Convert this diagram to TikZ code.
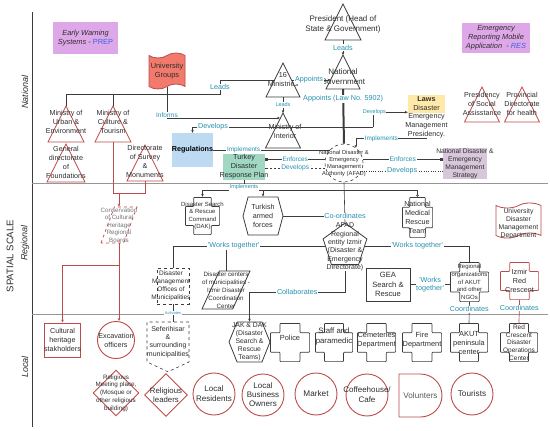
\documentclass[tikz,border=0pt]{standalone}
\usepackage{fontspec}
\setmainfont{Liberation Sans}
\usetikzlibrary{arrows.meta,shapes.geometric,shapes.symbols,shapes.misc,calc}

\definecolor{labteal}{RGB}{40,145,175}
\definecolor{linegray}{RGB}{60,60,60}
\definecolor{sepgray}{RGB}{150,150,150}
\definecolor{txtgray}{RGB}{45,45,45}
\definecolor{redline}{RGB}{190,75,75}
\definecolor{pinkbox}{RGB}{222,168,232}
\definecolor{prepblue}{RGB}{60,95,230}
\definecolor{salmon}{RGB}{242,122,108}
\definecolor{regblue}{RGB}{190,218,242}
\definecolor{planteal}{RGB}{160,216,196}
\definecolor{lawyellow}{RGB}{255,232,168}
\definecolor{stratpurple}{RGB}{216,198,218}

\newcommand{\fs}[2]{\fontsize{#1}{#2}\selectfont}

% triangle: name, apex x, apex y, height
\newcommand{\tri}[5][linegray]{%
  \draw[draw=#1, line width=0.8pt] (#3,#4) coordinate (#2)
    -- ++({#5/2},#5) -- ++(-#5,0) -- cycle;
  \coordinate (#2-b) at (#3,#4+#5);
  \coordinate (#2-re) at ({#3+#5/4},{#4+#5/2});
  \coordinate (#2-le) at ({#3-#5/4},{#4+#5/2});}

\tikzset{
  plusbox/.style={inner sep=0pt, path picture={
    \draw[draw=#1, line width=0.7pt, rounded corners=0.8pt]
      let \p1=(path picture bounding box.south west),
          \p2=(path picture bounding box.north east),
          \n1={(\x2-\x1)/4}, \n2={(\y2-\y1)/4}, \n3={0.4pt} in
      ({\x1+\n1},{\y2-\n3}) -- ({\x2-\n1},{\y2-\n3}) -- ({\x2-\n1},{\y2-\n2})
      -- ({\x2-\n3},{\y2-\n2}) -- ({\x2-\n3},{\y1+\n2}) -- ({\x2-\n1},{\y1+\n2})
      -- ({\x2-\n1},{\y1+\n3}) -- ({\x1+\n1},{\y1+\n3}) -- ({\x1+\n1},{\y1+\n2})
      -- ({\x1+\n3},{\y1+\n2}) -- ({\x1+\n3},{\y2-\n2}) -- ({\x1+\n1},{\y2-\n2}) -- cycle;}},
  plusbox/.default=linegray
}

\begin{document}
\begin{tikzpicture}[
    x=1pt, y=-1pt,   % pixel grid, y downwards
    >={Stealth[length=3pt,width=2.6pt]},
    txt/.style={align=center, inner sep=0pt, text=txtgray, font=\fs{7.2}{9}},
    lbl/.style={align=center, inner sep=0.6pt, fill=white, text=labteal, font=\fs{7.2}{8.5}},
    lbls/.style={lbl, font=\fs{5.5}{6}},
    conn/.style={draw=linegray, line width=0.6pt},
    rconn/.style={draw=redline, line width=0.7pt},
    sqtip/.style={-{Square[length=2.4pt,width=2.4pt]}},
    shp/.style={draw=linegray, line width=0.8pt, inner sep=0pt},
    rshp/.style={draw=redline, line width=0.9pt, inner sep=0pt}
  ]
  \useasboundingbox (0,0) rectangle (550,431);

  % Achse und Ebenen
  \draw[linegray, line width=0.9pt] (32,12) -- (32,427);
  \draw[sepgray, line width=0.6pt] (32,183) -- (548,183);
  \draw[sepgray, line width=0.6pt] (32,314) -- (548,314);
  \node[rotate=90, font=\fs{9.6}{11}, text=txtgray] (scl) at (10,256) {SPATIAL SCALE};
  \node[rotate=90, font=\fs{9}{10}\itshape, text=txtgray] (lvn) at (25,92) {National};
  \node[rotate=90, font=\fs{9}{10}\itshape, text=txtgray] (lvr) at (25,243) {Regional};
  \node[rotate=90, font=\fs{9}{10}\itshape, text=txtgray] (lvl) at (25,367) {Local};

  % Systeme
  \node[fill=pinkbox, minimum width=65, minimum height=32, txt, font=\fs{7.4}{9}\itshape] (ews) at (85.5,38)
    {Early Warning\\Systems - \textcolor{prepblue}{\upshape PREP}};
  \node[fill=pinkbox, minimum width=68, minimum height=30, txt, font=\fs{7.4}{9}\itshape] (erm) at (496,38)
    {Emergency\\Reporting Mobile\\Application \ - \textcolor{prepblue}{RES}};

  % nationale Ebene
  \tri{pres}{343}{4}{36}
  \node[txt, font=\fs{8}{10}] (pres-t) at (343,24) {President (Head of\\State \& Government)};
  \tri{ngov}{343}{55}{34}
  \node[txt, font=\fs{8}{10}] (ngov-t) at (343,77) {National\\Government};
  \tri{min16}{283}{63}{34}
  \node[txt] (min16-t) at (283,80) {16\\Ministries};
  \tri{moi}{283}{113}{35}
  \node[txt] (moi-t) at (285,131) {Ministry of\\Interior};
  \tri[redline]{mue}{66}{106}{36}
  \node[txt] (mue-t) at (66,122) {Ministry of\\Urban \&\\Environment};
  \tri[redline]{mct}{113}{106}{36}
  \node[txt] (mct-t) at (113,122) {Ministry of\\Culture \&\\Tourism};
  \tri[redline]{gdf}{66}{144}{38}
  \node[txt] (gdf-t) at (66,162.5) {General\\directorate\\of\\Foundations};
  \tri[redline]{dsm}{145}{145}{36}
  \node[txt] (dsm-t) at (145,161.5) {Directorate\\of Survey\\\&\\Monuments};
  \tri[redline]{psa}{482}{87}{35}
  \node[txt] (psa-t) at (482,104) {Presidency\\of Social\\Assisstance};
  \tri[redline]{pdh}{522}{87}{35}
  \node[txt] (pdh-t) at (522,104) {Provincial\\Directorate\\for health};

  \node[tape, draw=redline, line width=0.8pt, fill=salmon, minimum width=36, minimum height=36,
    txt, font=\fs{7.4}{9}] (ug) at (167,71) {University\\Groups};
  \node[fill=regblue, minimum width=41, minimum height=34, txt, text=black,
    font=\bfseries\fs{7.2}{9}] (reg) at (192.5,150) {Regulations};
  \node[fill=planteal, minimum width=42, minimum height=26, inner sep=0pt,
    label={[txt]center:{Turkey\\Disaster\\Response Plan}}] (plan) at (244,167) {};
  \node[fill=lawyellow, minimum width=37, minimum height=18, txt] (laws) at (426.5,104) {\textbf{Laws}\\Disaster};
  \node[txt] (lawsd) at (426.5,126) {Emergency\\Management\\Presidency.};
  \node[circle, draw=linegray, dashed, line width=0.6pt, minimum size=38, inner sep=0pt,
    label={[txt, font=\fs{5.8}{7}]center:{National Disaster \&\\Emergency\\Management\\Authority (AFAD)}}] (afadn) at (344,163) {};
  \node[fill=stratpurple, minimum width=44, minimum height=31, inner sep=0pt,
    label={[txt, font=\fs{6.7}{8}]center:{National Disaster \&\\Emergency\\Management\\Strategy}}] (strat) at (465,163.5) {};

  % Verbindungen national
  \draw[conn,->] (pres-b) -- node[lbl] (lds1) {Leads} (ngov);
  \draw[conn,->] (min16-re) -- node[lbl, pos=0.45] (app1) {Appoints} ++(39,0);
  \draw[linegray, line width=2pt] (ngov-b) -- node[lbl, pos=0.18] (app2) {Appoints (Law No. 5902)} (afadn.north);
  \draw[conn,->] (min16-b) -- node[lbls] (lds2) {Leads} (moi);
  \coordinate (ldj) at (220,94);
  \draw[conn] (ldj -| mct) -- (mct);
  \draw[conn] (min16-le) -| node[lbl, pos=0.75] (lds3) {Leads} (ldj) -| (mue);
  \draw[conn,->] (ug.south) |- node[lbl, font=\fs{6.5}{7}, pos=0.45] (inf) {Informs} ($(moi)+(-3,5)$);
  \coordinate (dvj) at (373,127);
  \draw[conn,->] (dvj) -| node[lbl, pos=0.443] (dev1) {Develops} (reg.north);
  \draw[conn,->] (dvj) |- node[lbls, pos=0.52] (dev2) {Develops} ($(laws.south west)+(0,-1)$);
  \draw[conn,->] (lawsd.south) -| node[lbl, font=\fs{6.4}{7}, pos=0.32] (imp0) {Implements} (afadn.52);
  \draw[conn] (afadn.137) -- node[lbl, font=\fs{6.4}{7}, pos=0.74] (imp1) {Implements} (reg.east |- afadn.137);
  \draw[conn, sqtip] (afadn.168) -- node[lbl, font=\fs{6.4}{7}] (enf1) {Enforces} (plan.east |- afadn.168);
  \draw[conn, dash pattern=on 2.5pt off 1.6pt] (afadn.195) -- node[lbl, font=\fs{6.7}{7}] (dev3) {Develops} (plan.east |- afadn.195);
  \draw[conn, sqtip] (afadn.12) -- node[lbl, font=\fs{6.7}{7}] (enf2) {Enforces} (strat.west |- afadn.12);
  \draw[conn, dash pattern=on 1pt off 1.3pt] (afadn.-24) -- node[lbl] (dev4) {Develops} (strat.west |- afadn.-24);

  % regionale Ebene
  \node[plusbox, minimum width=35, minimum height=38,
    label={[txt, font=\fs{6}{7.3}]center:{Disaster Search\\\& Rescue\\Command\\(DAK)}}] (dak) at (202.5,216) {};
  \node[signal, signal to=east and west, signal pointer angle=150, shp, minimum width=40, minimum height=38,
    label={[txt]center:{Turkish\\armed\\forces}}] (taf) at (263,216) {};
  \node[plusbox, minimum width=31, minimum height=41,
    label={[txt]center:{National\\Medical\\Rescue\\Team}}] (med) at (417.5,217.5) {};
  \node[tape, draw=redline, line width=0.8pt, minimum width=45, minimum height=35, inner sep=0pt,
    label={[txt, font=\fs{6.8}{8}, yshift=-3pt]center:{University\\Disaster\\Management\\Department}}] (udm) at (518.5,220.5) {};
  \node[regular polygon, regular polygon sides=5, shp, minimum size=46] (afadr) at (345,246) {};
  \node[txt, font=\fs{7}{8.4}] (afadr-t) at (345,247) {AFAD\\Regional\\entity Izmir\\(Disaster \&\\Emergency\\Directorate)};
  \node[trapezium, trapezium left angle=70, trapezium right angle=110, trapezium stretches=true,
    draw=redline, dashed, line width=0.7pt, minimum width=36, minimum height=36, inner sep=2pt,
    label={[txt, font=\fs{6.2}{7.6}, text=black!55]center:{Conservation\\of Cultural\\Heritage\\Regional\\Boards}}] (ccb) at (119,225) {\strut};
  \node[shp, dashed, minimum width=32, minimum height=36,
    label={[txt, font=\fs{6.5}{8}, xshift=-2pt]center:{Disaster\\Management\\Offices of\\Municipalities}}] (dmo) at (173,286) {};
  \node[trapezium, trapezium left angle=72, trapezium right angle=108, trapezium stretches=true,
    draw=linegray, line width=0.8pt, minimum width=48, minimum height=38, inner sep=2pt,
    label={[txt, font=\fs{6.2}{8}]center:{Disaster centers\\of municipalities -\\Izmir Disaster\\Coordination\\Center}}] (dcm) at (226,290) {\strut};
  \node[shp, minimum width=44, minimum height=33, txt, font=\fs{7.6}{9.5}] (gea) at (388,284.5) {GEA\\Search \&\\Rescue};
  \node[plusbox, minimum width=39, minimum height=40,
    label={[txt, font=\fs{6}{7.6}]center:{Regional\\organizations\\of AKUT\\and other\\NGOs}}] (ngo) at (469.5,282) {};
  \node[plusbox=redline, minimum width=39, minimum height=38,
    label={[txt]center:{Izmir\\Red\\Crescent}}] (izm) at (519.5,281) {};

  % lokale Ebene
  \node[rshp, minimum width=35, minimum height=34, txt] (chs) at (62.5,340) {Cultural\\heritage\\stakholders};
  \node[circle, rshp, minimum size=37, label={[txt]center:{Excavation\\officers}}] (exc) at (116,340) {};
  \node[signal, signal to=south, signal pointer angle=130, shp, dashed, line width=0.6pt, minimum width=42, minimum height=40,
    label={[txt, font=\fs{7}{8.3}]center:{Seferihisar\\\&\\surrounding\\municipalities}}] (sef) at (168,342) {};
  \node[signal, signal to=east and west, signal pointer angle=136, shp, minimum width=41, minimum height=40,
    label={[txt, font=\fs{6.8}{8}]center:{JAK \& DAK\\(Disaster\\Search \&\\Rescue\\Teams)}}] (jak) at (249.5,342) {};
  \node[plusbox, minimum width=40, minimum height=39,
    label={[txt, font=\fs{7.4}{9}, yshift=5pt]center:{Police}}] (pol) at (290,342.5) {};
  \node[plusbox, minimum width=38, minimum height=39,
    label={[txt, font=\fs{7.8}{10}, yshift=6pt]center:{Staff and\\paramedic}}] (stf) at (334,342.5) {};
  \node[plusbox, minimum width=39, minimum height=39,
    label={[txt, font=\fs{7.4}{9}, yshift=2pt]center:{Cemeteries\\Department}}] (cem) at (376.5,342.5) {};
  \node[plusbox, minimum width=40, minimum height=39,
    label={[txt, font=\fs{7.4}{9}, yshift=2pt]center:{Fire\\Department}}] (fire) at (422,342.5) {};
  \node[plusbox, minimum width=38, minimum height=39,
    label={[txt, font=\fs{7.4}{9}]center:{AKUT\\peninsula\\center}}] (akut) at (469,342.5) {};
  \node[plusbox, minimum width=38, minimum height=39,
    label={[txt, font=\fs{6.5}{7.8}]center:{Red\\Crescent\\Disaster\\Operations\\Center}}] (rco) at (519,342.5) {};

  \node[diamond, rshp, minimum width=46, minimum height=46,
    label={[txt, font=\fs{6.3}{7.8}]center:{Religious\\Meeting place,\\(Mosque or\\other religious\\building)}}] (rmp) at (116,393) {};
  \node[diamond, rshp, minimum width=43, minimum height=43,
    label={[txt, font=\fs{7.8}{9.5}]center:{Religious\\leaders}}] (rld) at (166,395) {};
  \node[circle, rshp, minimum size=42, label={[txt, font=\fs{8}{10}]center:{Local\\Residents}}] (res) at (214,394) {};
  \node[circle, rshp, minimum size=42, label={[txt, font=\fs{8}{9}]center:{Local\\Business\\Owners}}] (lbo) at (263,395) {};
  \node[circle, rshp, minimum size=42, label={[txt, font=\fs{8.2}{10}]center:{Market}}] (mkt) at (316,394) {};
  \node[circle, rshp, minimum size=42, label={[txt, font=\fs{8}{10}]center:{Coffeehouse/\\Cafe}}] (cafe) at (367,395) {};
  \node[rounded rectangle, rounded rectangle left arc=none, rshp, minimum width=43, minimum height=43,
    label={[txt, font=\fs{8.2}{10}, text=black!65]center:{Volunters}}] (vol) at (420.5,395.5) {};
  \node[circle, rshp, minimum size=42, label={[txt, font=\fs{8.2}{10}]center:{Tourists}}] (tour) at (472,394) {};

  % Verbindungen regional und lokal
  \draw[rconn] (mct-b) |- (dsm-b |- 0,193) -- (dsm-b);
  \draw[rconn,->] (ccb.north |- 0,193) -- (ccb.north);
  \draw[rconn,->] (ccb.south) -- (ccb.south |- exc.north);
  \draw[rconn,->] (ccb.south |- 0,265) -| (chs.north);
  \coordinate (impj) at (244,190);
  \draw[conn,->] (impj) -| (dak.north);
  \draw[conn,->] (impj) -| (taf.north);
  \draw[conn,-{Circle[open,length=2.6pt]}] (impj) -| (med.north);
  \draw[conn] (plan.south) -- node[lbls, pos=0.75] (imp2) {Implements} (impj);
  \draw[conn] (afadn.south) -- (afadr.north);
  \draw[conn] (taf.east) -- (taf.east -| afadr.north) node[lbl] (coo) {Co-ordinates};
  \draw[conn] (dcm.north |- afadr.west) -- (dcm.north);
  \draw[conn] (afadr.west) -- node[lbl, pos=0.6] (wt1) {\textquotesingle Works together\textquotesingle} (dmo.north |- afadr.west) -- (dmo.north);
  \draw[conn] (afadr.east) -- node[lbl] (wt2) {\textquotesingle Works together\textquotesingle} (ngo.north |- afadr.east) -- (ngo.north);
  \draw[conn] (gea.east) -- node[lbl] (wt3) {\textquotesingle Works\\together\textquotesingle} (ngo.west |- gea.east);
  \draw[conn,->] (afadr-t.south) |- node[lbl, pos=0.75] (col) {Collaborates} (jak.north |- 0,292) -- (jak.north);
  \draw[conn] (dmo.south) -- node[lbls, font=\fs{4}{5}] (act) {Activates} (dmo.south |- sef.north);
  \draw[conn] (ngo.south) -- node[lbl, pos=0.35] (crd1) {Coordinates} (akut.north);
  \draw[rconn] (izm.south) -- node[lbl, pos=0.35] (crd2) {Coordinates} (rco.north);
\end{tikzpicture}
\end{document}
